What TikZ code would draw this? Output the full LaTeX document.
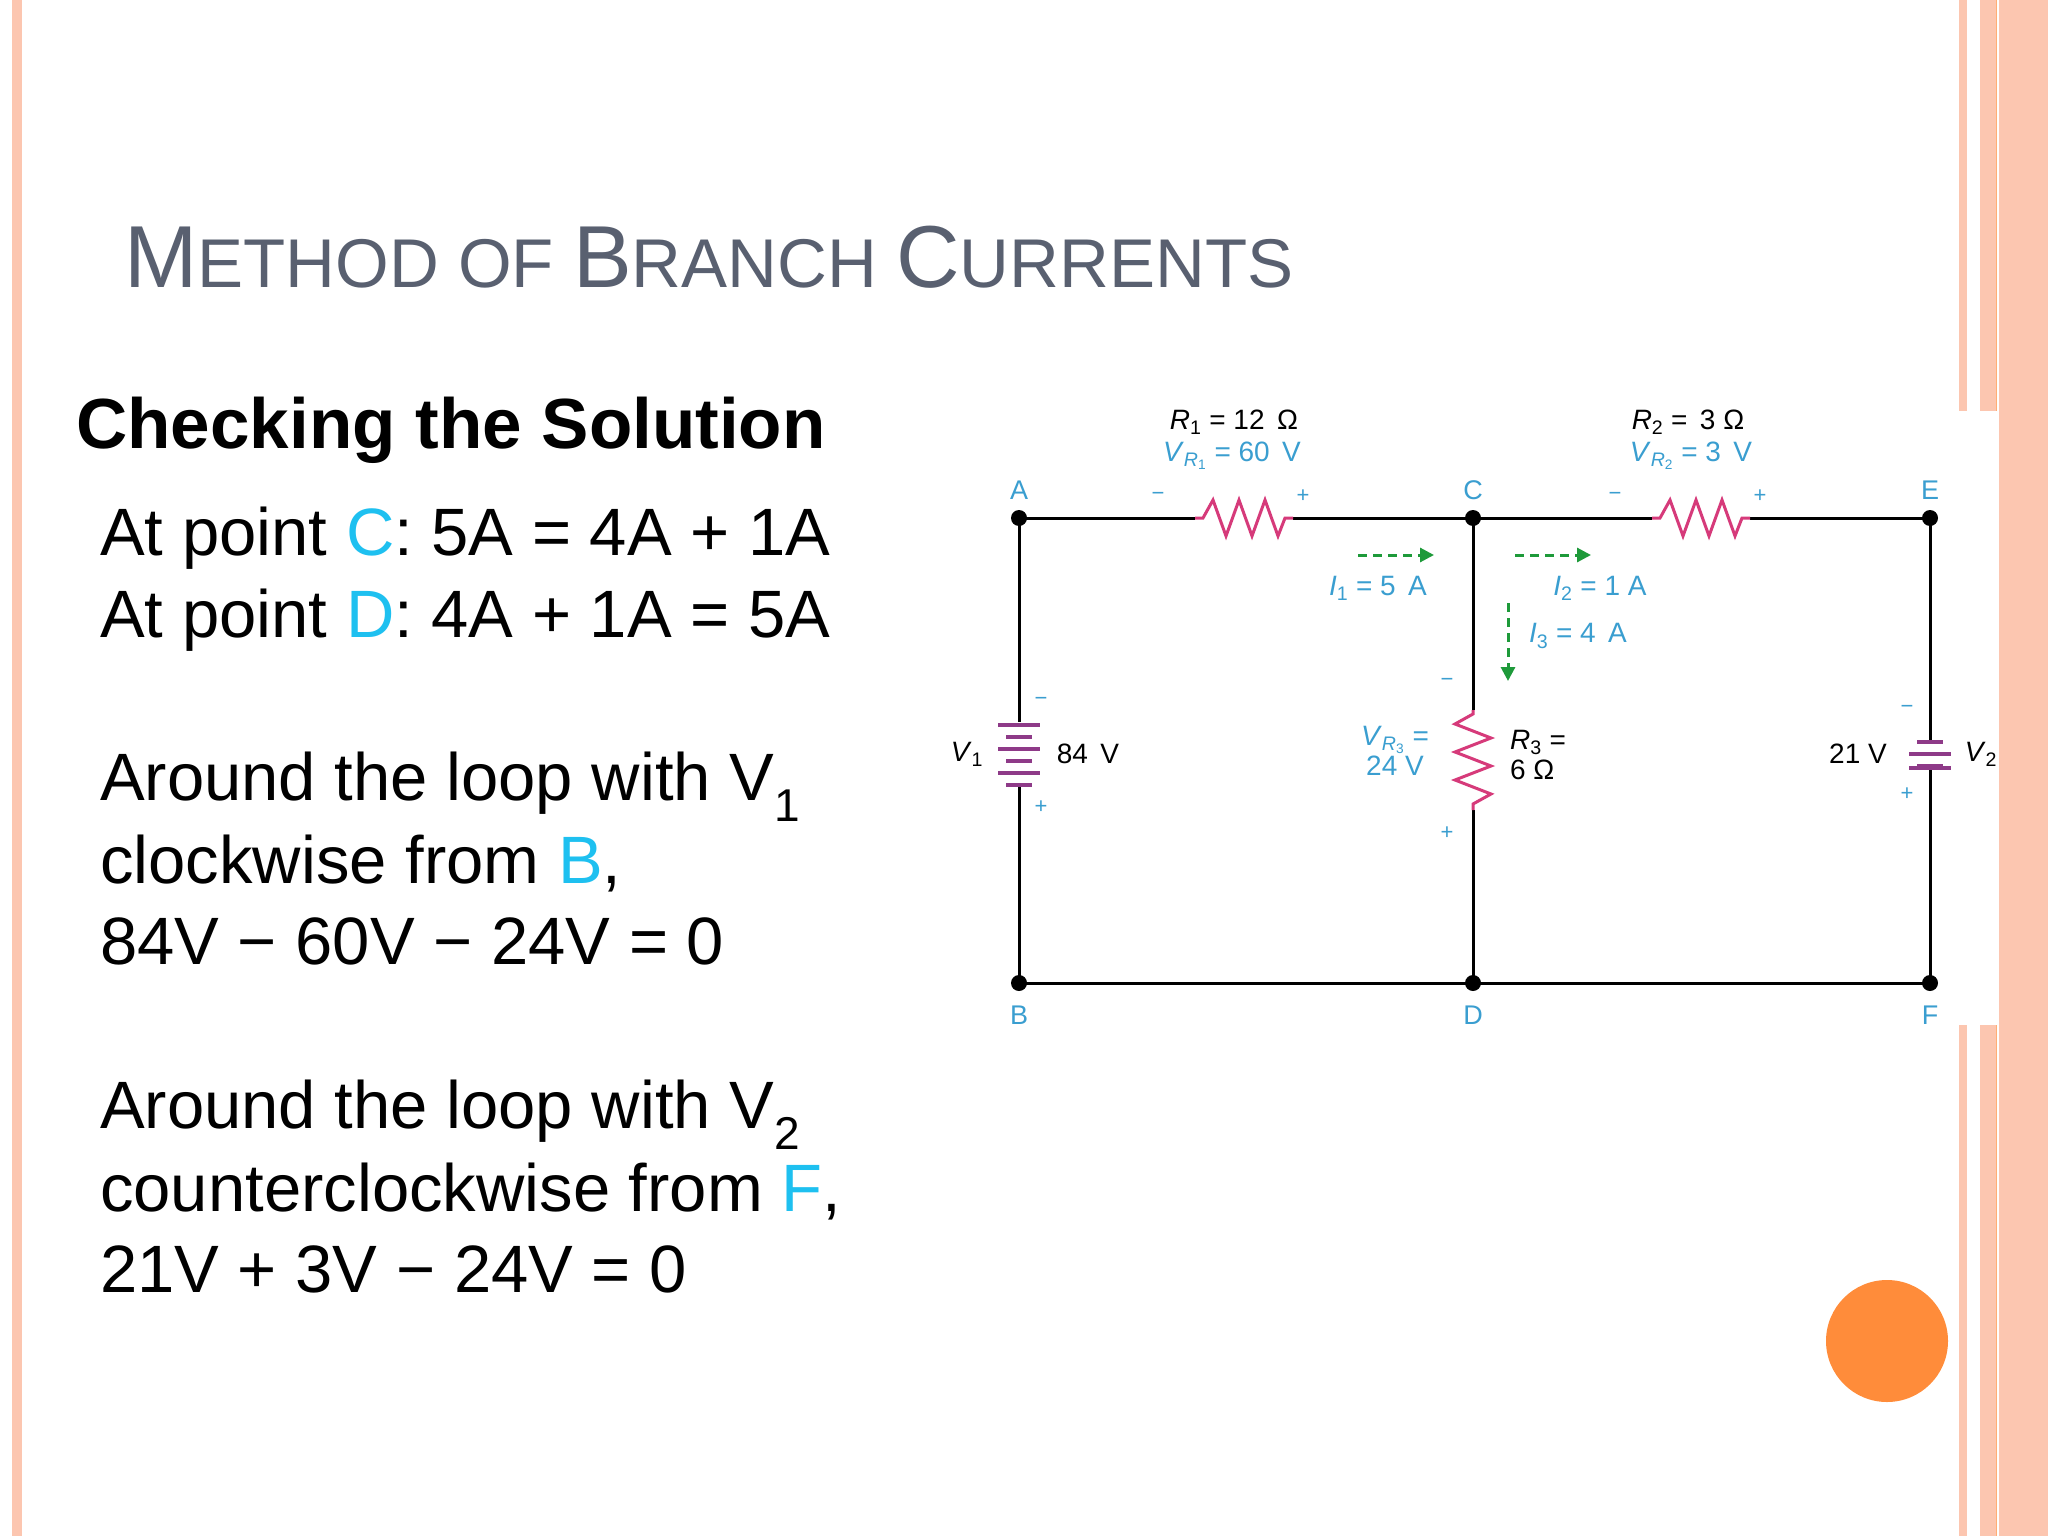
\documentclass[tikz,border=0pt]{standalone}
\usepackage{fontspec}
\setmainfont{Liberation Sans}
\usetikzlibrary{arrows.meta}
\definecolor{stripe}{HTML}{FCC6B0}
\definecolor{titlegray}{HTML}{596070}
\definecolor{hl}{HTML}{1EC0F0}
\definecolor{lab}{HTML}{3A9ED0}
\definecolor{resc}{HTML}{D63A7A}
\definecolor{batc}{HTML}{8E3A88}
\definecolor{curc}{HTML}{1E9A3A}
\definecolor{dotc}{HTML}{FF8C3A}
\tikzset{
  wire/.style={line width=3pt,black},
  res/.style={line width=3pt,resc,line join=miter},
  plate/.style={line width=4.5pt,batc},
  junc/.style={circle,fill=black,inner sep=0pt,minimum size=16pt},
  pt/.style={font=\fontsize{27}{27}\selectfont,text=lab,inner sep=0pt},
  clab/.style={font=\fontsize{28}{30}\selectfont,inner sep=0pt,align=center},
  sgn/.style={font=\fontsize{22}{22}\selectfont,text=lab,inner sep=0pt},
  cur/.style={line width=3pt,curc,dashed,dash pattern=on 9pt off 6pt,-{Triangle[length=14pt,width=14pt]}},
  body/.style={font=\fontsize{67}{67}\selectfont,anchor=base west,inner sep=0pt},
}
\newcommand{\sub}[1]{\raisebox{-0.32em}{\fontsize{46}{46}\selectfont #1}}
\begin{document}
\begin{tikzpicture}[x=1pt,y=-1pt]
\useasboundingbox (0,0) rectangle (2048,1536);
\fill[white] (0,0) rectangle (2048,1536);
% stripes
\fill[stripe] (12,0) rectangle (22,1536);
\fill[stripe] (1959,0) rectangle (1967,1536);
\fill[stripe] (1980,0) rectangle (1997,1536);
\draw[dotc!70,line width=1pt] (1996,0) -- (1996,1536);
\fill[stripe] (1999,0) rectangle (2048,1536);
% circuit image background
\fill[white] (930,411) rectangle (1999,1025);
% title
\node[anchor=base west,inner sep=0pt,text=titlegray] (title) at (124,287)
 {\fontsize{88}{88}\selectfont M\fontsize{69}{69}\selectfont ETHOD OF \fontsize{88}{88}\selectfont B\fontsize{69}{69}\selectfont RANCH \fontsize{88}{88}\selectfont C\fontsize{69}{69}\selectfont URRENTS};
\node[anchor=base west,inner sep=0pt,font=\fontsize{71}{71}\selectfont\bfseries] (head) at (76,448) {Checking the Solution};
\node[body] (l1) at (100,555) {At point \textcolor{hl}{C}: 5A = 4A + 1A};
\node[body] (l2) at (100,637) {At point \textcolor{hl}{D}: 4A + 1A = 5A};
\node[body] (l3) at (100,800) {Around the loop with V\sub{1}};
\node[body] (l4) at (100,883) {clockwise from \textcolor{hl}{B},};
\node[body] (l5) at (100,964) {84V − 60V − 24V = 0};
\node[body] (l6) at (100,1128) {Around the loop with V\sub{2}};
\node[body] (l7) at (100,1211) {counterclockwise from \textcolor{hl}{F},};
\node[body] (l8) at (100,1292) {21V + 3V − 24V = 0};
\node[circle,fill=dotc,minimum size=122pt,inner sep=0pt] (dot) at (1887,1341) {};
% circuit
\coordinate (A) at (1019,518); \coordinate (C) at (1473,518); \coordinate (E) at (1930,518);
\coordinate (B) at (1019,983); \coordinate (D) at (1473,983); \coordinate (F) at (1930,983);
\coordinate (r1a) at (1195,518); \coordinate (r1b) at (1293,518);
\coordinate (r2a) at (1652,518); \coordinate (r2b) at (1750,518);
\coordinate (r3a) at (1473,710); \coordinate (r3b) at (1473,810);
\coordinate (b1a) at (1019,722); \coordinate (b1b) at (1019,786);
\coordinate (b2a) at (1930,740); \coordinate (b2b) at (1930,770);
\draw[wire] (A) -- (r1a) (r1b) -- (C) -- (r2a) (r2b) -- (E) -- (b2a) (b2b) -- (F) -- (D) -- (B) -- (b1b) (b1a) -- (A);
\draw[wire] (C) -- (r3a) (r3b) -- (D);
\draw[res] (r1a) -- ++(8,0) -- ++(10,-18) -- ++(13,36) -- ++(13,-36) -- ++(13,36) -- ++(13,-36) -- ++(13,36) -- ++(7,-18) -- (r1b);
\draw[res] (r2a) -- ++(8,0) -- ++(10,-18) -- ++(13,36) -- ++(13,-36) -- ++(13,36) -- ++(13,-36) -- ++(13,36) -- ++(7,-18) -- (r2b);
\draw[res] (r3a) -- ++(0,4) -- ++(-18,10) -- ++(36,14) -- ++(-36,14) -- ++(36,14) -- ++(-36,14) -- ++(36,14) -- ++(-18,10) -- (r3b);
% batteries
\draw[plate] (998,725) -- (1040,725);
\draw[plate] (1006,737) -- (1032,737);
\draw[plate] (998,749) -- (1040,749);
\draw[plate] (1006,761) -- (1032,761);
\draw[plate] (998,773) -- (1040,773);
\draw[plate] (1006,785) -- (1032,785);
\draw[plate] (1917,742) -- (1943,742);
\draw[plate] (1909,754) -- (1951,754);
\draw[plate] (1917,766) -- (1943,766);
\draw[plate] (1909,768) -- (1951,768);
\foreach \p in {A,B,C,D,E,F} \node[junc] (j\p) at (\p) {};
% node labels
\node[pt] (lA) at (1019,490) {A}; \node[pt] (lC) at (1473,490) {C}; \node[pt] (lE) at (1930,490) {E};
\node[pt] (lB) at (1019,1015) {B}; \node[pt] (lD) at (1473,1015) {D}; \node[pt] (lF) at (1930,1015) {F};
\node[clab] (r1l) at (1234,422) {\textit{R}\textsubscript{1} = 12\, Ω};
\node[clab,text=lab] (v1l) at (1232,456) {\textit{V}\textsubscript{\textit{R}\textsubscript{1}} = 60\, V};
\node[clab] (r2l) at (1688,422) {\textit{R}\textsubscript{2} =\, 3 Ω};
\node[clab,text=lab] (v2l) at (1691,456) {\textit{V}\textsubscript{\textit{R}\textsubscript{2}} = 3\, V};
\node[sgn] (s1) at (1158,496) {−}; \node[sgn] (s2) at (1303,496) {+};
\node[sgn] (s3) at (1615,496) {−}; \node[sgn] (s4) at (1760,496) {+};
\node[sgn] (s5) at (1447,682) {−}; \node[sgn] (s6) at (1447,833) {+};
\node[sgn] (s7) at (1041,701) {−}; \node[sgn] (s8) at (1041,807) {+};
\node[sgn] (s9) at (1907,709) {−}; \node[sgn] (s10) at (1907,794) {+};
% currents
\coordinate (i1a) at (1358,555); \coordinate (i1b) at (1434,555);
\coordinate (i2a) at (1515,555); \coordinate (i2b) at (1591,555);
\coordinate (i3a) at (1508,603); \coordinate (i3b) at (1508,681);
\draw[cur] (i1a) -- (i1b); \draw[cur] (i2a) -- (i2b); \draw[cur] (i3a) -- (i3b);
\node[clab,text=lab] (i1l) at (1378,588) {\textit{I}\textsubscript{1} = 5\, A};
\node[clab,text=lab] (i2l) at (1600,588) {\textit{I}\textsubscript{2} = 1 A};
\node[clab,text=lab] (i3l) at (1578,636) {\textit{I}\textsubscript{3} = 4\, A};
\node[clab,text=lab] (vr3) at (1395,751) {\textit{V}\textsubscript{\textit{R}\textsubscript{3}} =\\24 V};
\node[clab,align=left] (r3l) at (1538,755) {\textit{R}\textsubscript{3} =\\6 Ω};
\node[clab] (bv1) at (967,754) {\textit{V}\textsubscript{1}};
\node[clab] (bv1v) at (1088,754) {84\, V};
\node[clab] (bv2v) at (1858,754) {21 V};
\begin{scope}
\clip (1960,700) rectangle (1999,800);
\node[clab] (bv2) at (1981,754) {\textit{V}\textsubscript{2}};
\end{scope}
\end{tikzpicture}
\end{document}
